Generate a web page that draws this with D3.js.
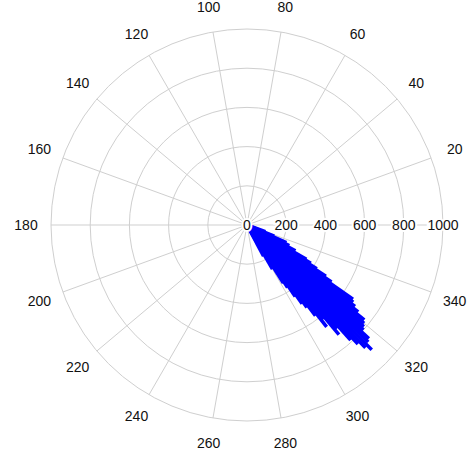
<!DOCTYPE html>
<html>
<head>
<meta charset="utf-8">
<script src="https://cdn.jsdelivr.net/npm/d3@7"></script>
<style>
  body { margin: 0; background: #fff; }
  text { font-family: "Liberation Sans", Arial, sans-serif; font-size: 14px; fill: #111; }
</style>
</head>
<body>
<div id="chart"></div>
<script>
// directions (degrees) and their magnitudes
const angles = [298, 300, 302, 303, 304, 305, 306, 307, 308, 309, 310, 311, 312, 313, 314, 315,
  316, 317, 318, 319, 320, 321, 322, 323, 324, 325, 326, 327, 328, 329, 330, 332, 334, 336, 338, 340];
const values = [180, 260, 350, 380, 440, 490, 520, 580, 660, 620, 730, 700, 790, 830, 870, 900,
  860, 850, 800, 790, 780, 770, 720, 690, 670, 660, 520, 480, 420, 380, 350, 280, 240, 220, 150, 100];
const radialTicks = [0, 200, 400, 600, 800, 1000];
const angleTicks = [20, 40, 60, 80, 100, 120, 140, 160, 180, 200, 220, 240, 260, 280, 300, 320, 340];

const width = 474, height = 450;
const cx = 247, cy = 225, R = 196;

const r = d3.scaleLinear().domain([0, 1000]).range([0, R]);
const toXY = (deg, v) => {
  const a = deg * Math.PI / 180;
  return [cx + r(v) * Math.cos(a), cy - r(v) * Math.sin(a)];
};

const svg = d3.select("#chart").append("svg")
  .attr("width", width).attr("height", height);

// rings
svg.selectAll("circle.ring")
  .data(radialTicks.slice(1))
  .enter().append("circle")
  .attr("cx", cx).attr("cy", cy).attr("r", d => r(d))
  .attr("fill", "none").attr("stroke", "#cfcfcf").attr("stroke-width", 1);

// spokes every 20 degrees
svg.selectAll("line.spoke")
  .data(d3.range(0, 360, 20))
  .enter().append("line")
  .attr("x1", cx).attr("y1", cy)
  .attr("x2", d => toXY(d, 1000)[0]).attr("y2", d => toXY(d, 1000)[1])
  .attr("stroke", "#cfcfcf").attr("stroke-width", 1);

// data stems
svg.selectAll("line.stem")
  .data(angles.map((a, i) => ({ a, v: values[i] })))
  .enter().append("line")
  .attr("x1", cx).attr("y1", cy)
  .attr("x2", d => toXY(d.a, d.v)[0]).attr("y2", d => toXY(d.a, d.v)[1])
  .attr("stroke", "#0000ff").attr("stroke-width", 3.5);

// angular labels
svg.selectAll("text.ang")
  .data(angleTicks)
  .enter().append("text")
  .attr("x", d => cx + 221 * Math.cos(d * Math.PI / 180))
  .attr("y", d => cy - 221 * Math.sin(d * Math.PI / 180))
  .attr("text-anchor", "middle").attr("dominant-baseline", "central")
  .text(d => d);

// radial labels along 0 degrees
svg.selectAll("text.rad")
  .data(radialTicks)
  .enter().append("text")
  .attr("x", d => cx + r(d)).attr("y", cy)
  .attr("text-anchor", "middle").attr("dominant-baseline", "central")
  .attr("stroke", "#fff").attr("stroke-width", 4).attr("paint-order", "stroke")
  .text(d => d);
</script>
</body>
</html>
